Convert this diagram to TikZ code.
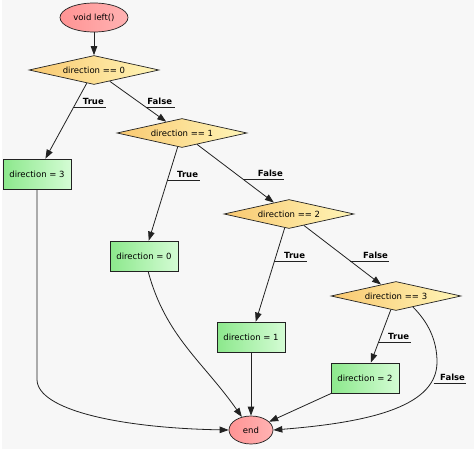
\documentclass[tikz,border=0pt]{standalone}
\usepackage{fontspec}
\setmainfont{DejaVu Sans}
\usetikzlibrary{shapes.geometric,arrows.meta,calc}
\definecolor{bg}{HTML}{F7F7F7}
\definecolor{lnc}{HTML}{222222}
\begin{document}
\begin{tikzpicture}[x=1pt,y=1pt,
  term/.style={ellipse,draw=lnc,line width=0.7pt,left color=red!42!white,right color=red!30!white,inner sep=0pt,font=\fontsize{8.5}{10}\selectfont},
  dec/.style={diamond,shape aspect=4.48,draw=lnc,line width=0.7pt,left color={rgb,255:red,249;green,200;blue,112},right color={rgb,255:red,255;green,246;blue,184},inner sep=0pt,minimum width=130pt,minimum height=29pt,font=\fontsize{8.5}{10}\selectfont},
  act/.style={rectangle,draw=lnc,line width=0.7pt,left color={rgb,255:red,140;green,232;blue,140},right color={rgb,255:red,212;green,252;blue,212},inner sep=0pt,minimum width=68pt,minimum height=30pt,font=\fontsize{8.5}{10}\selectfont},
  edge/.style={draw=lnc,line width=0.8pt,-{Triangle[length=9pt,width=6.5pt]}},
  lbl/.style={inner sep=0pt,anchor=south west,font=\fontsize{8.5}{10}\selectfont\bfseries},
  uline/.style={draw=lnc,line width=0.8pt}]
\useasboundingbox (0,0) rectangle (474,-453);
\fill[white] (0,0) rectangle (474,-453);
\fill[bg] (2,0) rectangle (474,-449);
% nodes
\node[term,minimum width=68pt,minimum height=29pt] (start) at (94,-17.5) {void left()};
\node[dec] (d0) at (94,-70) {direction == 0};
\node[dec] (d1) at (182,-133) {direction == 1};
\node[dec] (d2) at (289,-214) {direction == 2};
\node[dec] (d3) at (396,-296) {direction == 3};
\node[act] (b3) at (37,-174) {direction = 3};
\node[act] (b0) at (144,-256) {direction = 0};
\node[act] (b1) at (251,-337) {direction = 1};
\node[act] (b2) at (365,-378) {direction = 2};
\node[term,minimum width=44pt,minimum height=28pt] (end) at (251,-430) {end};
% edges
\draw[edge] (start) -- (d0);
\draw[edge] (d0) -- (b3);
\draw[edge] (d0) -- (d1);
\draw[edge] (d1) -- (b0);
\draw[edge] (d1) -- (d2);
\draw[edge] (d2) -- (b1);
\draw[edge] (d2) -- (d3);
\draw[edge] (d3) -- (b2);
\draw[edge] (b1) -- (end);
\draw[edge] (b2) -- (end);
\draw[edge] (b0) to[out=-75,in=125] (end);
\draw[edge] (b3.south) -- ($(b3.south)+(0,-190)$) .. controls (37,-410) and (120,-428) .. (end.west);
\draw[edge] (d3.-33) .. controls (428,-322) and (437,-340) .. (437,-362) .. controls (437,-405) and (375,-422) .. (end.east);
% labels
\coordinate (u1) at ($(d0)!0.356!(b3)$);
\node[lbl] (l1) at ([shift={(9,2)}]u1) {True};
\draw[uline] (u1) -- ([xshift=2pt]u1 -| l1.east);
\coordinate (u2) at ($(d0)!0.587!(d1)$);
\node[lbl] (l2) at ([shift={(1.5,2)}]u2) {False};
\draw[uline] (u2) -- ([xshift=3pt]u2 -| l2.east);
\coordinate (u3) at ($(d1)!0.382!(b0)$);
\node[lbl] (l3) at ([shift={(9.5,2)}]u3) {True};
\draw[uline] (u3) -- ([xshift=2pt]u3 -| l3.east);
\coordinate (u4) at ($(d1)!0.568!(d2)$);
\node[lbl] (l4) at ([shift={(15,2)}]u4) {False};
\draw[uline] (u4) -- ([xshift=1pt]u4 -| l4.east);
\coordinate (u5) at ($(d2)!0.382!(b1)$);
\node[lbl] (l5) at ([shift={(9.5,2)}]u5) {True};
\draw[uline] (u5) -- ([xshift=2pt]u5 -| l5.east);
\coordinate (u6) at ($(d2)!0.573!(d3)$);
\node[lbl] (l6) at ([shift={(12.7,2)}]u6) {False};
\draw[uline] (u6) -- ([xshift=1pt]u6 -| l6.east);
\coordinate (u7) at ($(d3)!0.561!(b2)$);
\node[lbl] (l7) at ([shift={(9.4,2)}]u7) {True};
\draw[uline] (u7) -- ([xshift=2pt]u7 -| l7.east);
\coordinate (u8) at (433.5,-383);
\node[lbl] (l8) at ([shift={(6.5,2)}]u8) {False};
\draw[uline] (u8) -- ([xshift=1pt]u8 -| l8.east);
\end{tikzpicture}
\end{document}
